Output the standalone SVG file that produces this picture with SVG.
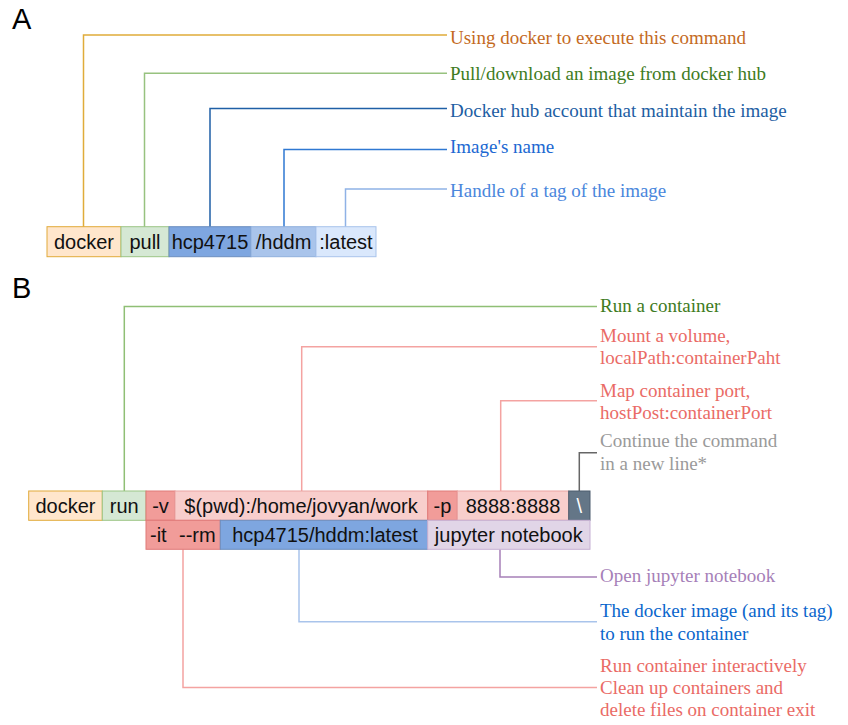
<svg xmlns="http://www.w3.org/2000/svg" width="848" height="725" viewBox="0 0 848 725">
<style>
.bg{fill:#ffffff}
.cmd{font-family:"Liberation Sans",Arial,sans-serif;font-size:20px;fill:#111111;text-anchor:middle}
.cmdl{font-family:"Liberation Sans",Arial,sans-serif;font-size:20px;fill:#111111}
.panel{font-family:"Liberation Sans",Arial,sans-serif;font-size:29px;fill:#000000}
.lab{font-family:"Liberation Serif","Times New Roman",serif;font-size:19px}
.ln{fill:none;stroke-width:1.5}
.orange{fill:#ffe6cc;stroke:#e2aa3a}
.green{fill:#d5e8d4;stroke:#9cc585}
.blue1{fill:#7ea6e0;stroke:#6c8ebf}
.blue2{fill:#a9c4eb;stroke:#8fb0dd}
.blue3{fill:#dae8fc;stroke:#a9c4eb}
.red1{fill:#f19c99;stroke:#e07a78}
.red2{fill:#f8cecc;stroke:#eaa3a1}
.slate{fill:#647687;stroke:#4d5d6e}
.purple{fill:#e1d5e7;stroke:#c6b0d3}
</style>
<rect class="bg" x="0" y="0" width="848" height="725"/>
<text class="panel" x="12" y="29">A</text>
<text class="panel" x="12" y="297.5">B</text>

<g id="connectors">
  <polyline class="ln" stroke="#e0ac3a" points="83.5,227 83.5,35 447,35"/>
  <polyline class="ln" stroke="#97c27f" points="144.5,227 144.5,73.3 447,73.3"/>
  <polyline class="ln" stroke="#1f5fa6" points="210,227 210,108.5 447,108.5"/>
  <polyline class="ln" stroke="#2f78d2" points="284,227 284,149.5 447,149.5"/>
  <polyline class="ln" stroke="#8fb2e6" points="345.5,227 345.5,189 447,189"/>

  <polyline class="ln" stroke="#8fbf75" points="124.3,491 124.3,306.5 597,306.5"/>
  <polyline class="ln" stroke="#f4a3a1" points="301.7,491 301.7,346.7 597,346.7"/>
  <polyline class="ln" stroke="#f4a3a1" points="500.7,491 500.7,400.7 597,400.7"/>
  <polyline class="ln" stroke="#666666" points="579.3,491 579.3,452.7 597,452.7"/>
  <polyline class="ln" stroke="#a680b8" points="500,549.3 500,577 597,577"/>
  <polyline class="ln" stroke="#a9c4eb" points="299,549.3 299,621.7 597,621.7"/>
  <polyline class="ln" stroke="#f4a3a1" points="183,549.3 183,687.5 597,687.5"/>
</g>

<g id="cmdA">
  <g id="a-docker"><rect class="orange" x="47" y="226.7" width="74" height="30"/><text class="cmd" x="84" y="249">docker</text></g>
  <g id="a-pull"><rect class="green" x="121" y="226.7" width="48" height="30"/><text class="cmd" x="145" y="249">pull</text></g>
  <g id="a-hcp"><rect class="blue1" x="169" y="226.7" width="82" height="30"/><text class="cmd" x="210" y="249">hcp4715</text></g>
  <g id="a-hddm"><rect class="blue2" x="251" y="226.7" width="65" height="30"/><text class="cmd" x="283.5" y="249">/hddm</text></g>
  <g id="a-latest"><rect class="blue3" x="316" y="226.7" width="60" height="30"/><text class="cmd" x="346" y="249">:latest</text></g>
</g>

<g id="labelsA">
  <text class="lab" x="450" y="43.5" fill="#c46a1e">Using docker to execute this command</text>
  <text class="lab" x="450" y="80" fill="#3e7b22">Pull/download an image from docker hub</text>
  <text class="lab" x="450" y="116.7" fill="#1d5ea3">Docker hub account that maintain the image</text>
  <text class="lab" x="450" y="153.3" fill="#2068d2">Image's name</text>
  <text class="lab" x="450" y="196.7" fill="#4a86dc">Handle of a tag of the image</text>
</g>

<g id="cmdB">
  <g id="b-docker"><rect class="orange" x="28.7" y="491" width="73.6" height="29.3"/><text class="cmd" x="65.5" y="512.7">docker</text></g>
  <g id="b-run"><rect class="green" x="102.3" y="491" width="43.7" height="29.3"/><text class="cmd" x="124.2" y="512.7">run</text></g>
  <g id="b-v"><rect class="red1" x="146" y="491" width="29" height="29.3"/><text class="cmd" x="160.5" y="512.7">-v</text></g>
  <g id="b-pwd"><rect class="red2" x="175" y="491" width="252.7" height="29.3"/><text class="cmd" x="301" y="512.7">$(pwd):/home/jovyan/work</text></g>
  <g id="b-p"><rect class="red1" x="427.7" y="491" width="29.6" height="29.3"/><text class="cmd" x="442.5" y="512.7">-p</text></g>
  <g id="b-port"><rect class="red2" x="457.3" y="491" width="111.4" height="29.3"/><text class="cmd" x="513" y="512.7">8888:8888</text></g>
  <g id="b-backslash"><rect class="slate" x="568.7" y="491" width="21.3" height="29.3"/><text class="cmd" x="579.3" y="512.7" fill="#ffffff" style="fill:#ffffff">\</text></g>
  <g id="b-itrm"><rect class="red1" x="146" y="520.3" width="74.3" height="29"/><text class="cmdl" x="150" y="542">-it</text><text class="cmdl" x="179" y="542">--rm</text></g>
  <g id="b-image"><rect class="blue1" x="220.3" y="520.3" width="207.4" height="29"/><text class="cmd" x="325" y="542">hcp4715/hddm:latest</text></g>
  <g id="b-jupyter"><rect class="purple" x="427.7" y="520.3" width="162.3" height="29"/><text class="cmd" x="508.8" y="542">jupyter notebook</text></g>
</g>

<g id="labelsB">
  <text class="lab" x="600" y="311.7" fill="#3e7b22">Run a container</text>
  <text class="lab" x="600" y="341.7" fill="#ea6b66">Mount a volume,<tspan x="600" y="364">localPath:containerPaht</tspan></text>
  <text class="lab" x="600" y="396.7" fill="#ea6b66">Map container port,<tspan x="600" y="419">hostPost:containerPort</tspan></text>
  <text class="lab" x="600" y="446.7" fill="#9a9a9a">Continue the command<tspan x="600" y="470">in a new line*</tspan></text>
  <text class="lab" x="600" y="581.7" fill="#a680b8">Open jupyter notebook</text>
  <text class="lab" x="600" y="616.7" fill="#0a66cc">The docker image (and its tag)<tspan x="600" y="640">to run the container</tspan></text>
  <text class="lab" x="600" y="671.7" fill="#ea6b66">Run container interactively<tspan x="600" y="693.5">Clean up containers and</tspan><tspan x="600" y="715.7">delete files on container exit</tspan></text>
</g>
</svg>
